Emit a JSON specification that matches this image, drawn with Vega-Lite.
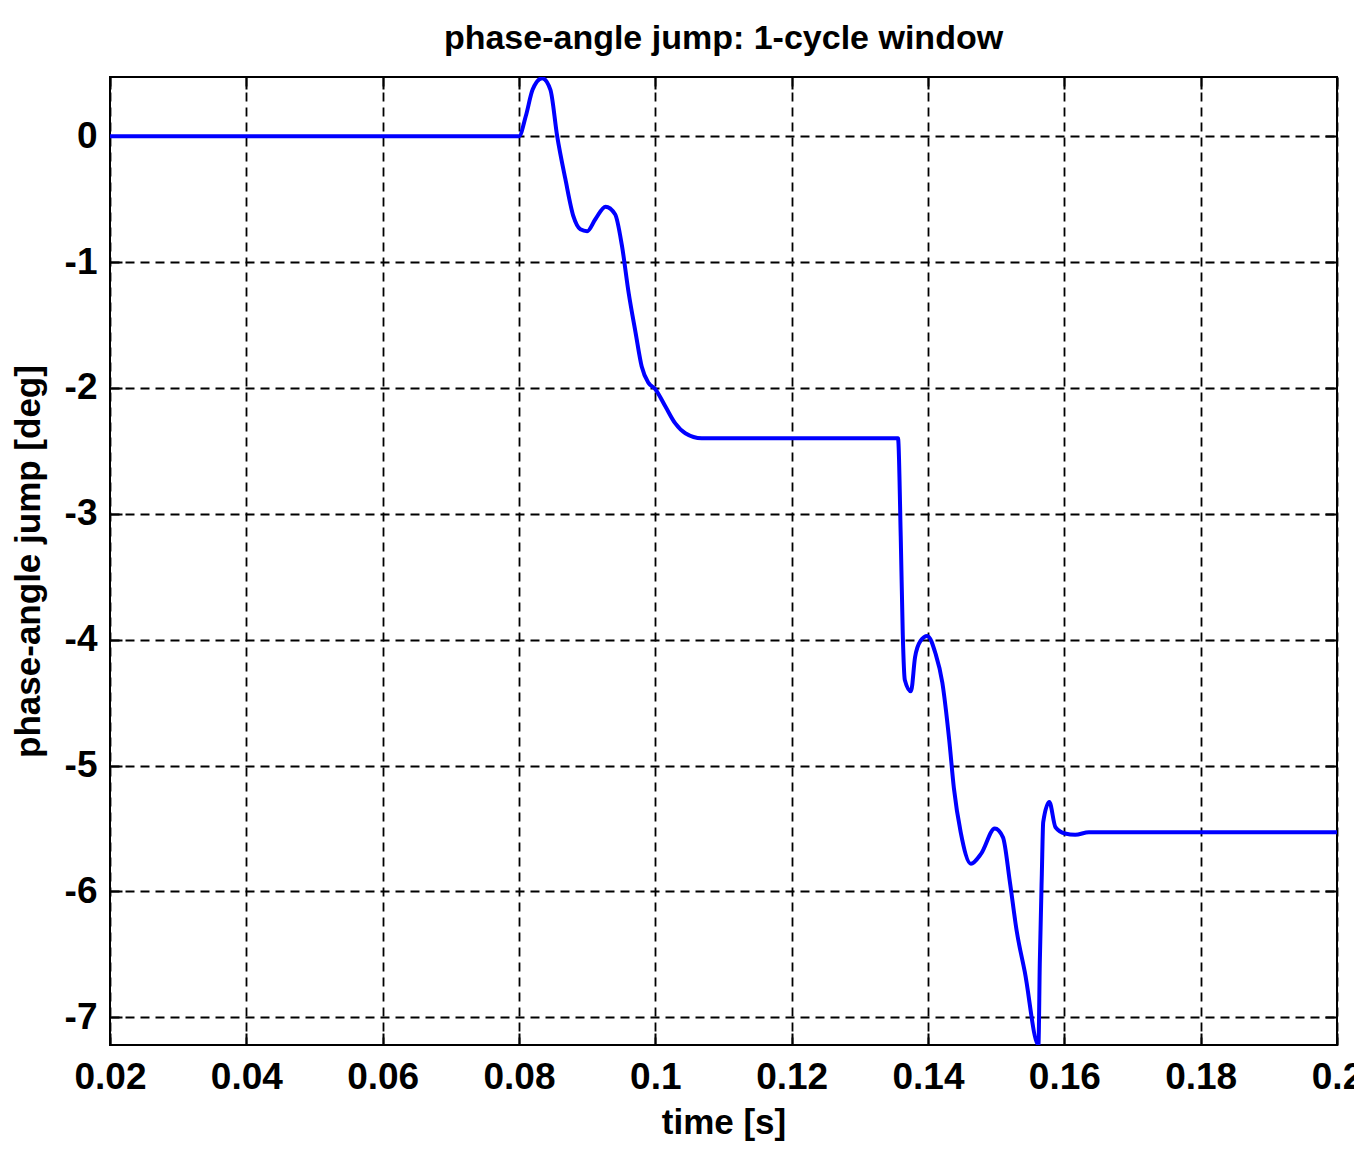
{
  "$schema": "https://vega.github.io/schema/vega-lite/v6.json",
  "description": "phase-angle jump, 1-cycle window",
  "autosize": {"type": "none"},
  "padding": {"left": 110, "top": 77, "right": 17, "bottom": 116},
  "width": 1227,
  "height": 968,
  "background": "white",
  "title": {
    "text": "phase-angle jump: 1-cycle window",
    "fontSize": 34,
    "fontWeight": "bold",
    "font": "Liberation Sans",
    "color": "black",
    "offset": 20
  },
  "config": {
    "view": {"stroke": "black", "strokeWidth": 2},
    "axis": {
      "labelFont": "Liberation Sans",
      "titleFont": "Liberation Sans",
      "labelFontWeight": "bold",
      "titleFontWeight": "bold",
      "labelFontSize": 37,
      "titleFontSize": 35,
      "labelColor": "black",
      "titleColor": "black",
      "tickColor": "black",
      "tickWidth": 2,
      "tickSize": -12,
      "domain": false,
      "gridColor": "black",
      "gridOpacity": 1,
      "gridWidth": 1.8,
      "gridDash": [9, 6]
    }
  },
  "data": {
    "values": [
      {"t": 0.02, "v": 0},
      {"t": 0.08, "v": 0},
      {"t": 0.081, "v": 0.16},
      {"t": 0.082, "v": 0.37},
      {"t": 0.0834, "v": 0.46},
      {"t": 0.0846, "v": 0.37},
      {"t": 0.0856, "v": 0},
      {"t": 0.0868, "v": -0.34},
      {"t": 0.088, "v": -0.64},
      {"t": 0.089, "v": -0.74},
      {"t": 0.09, "v": -0.755},
      {"t": 0.0912, "v": -0.66},
      {"t": 0.0927, "v": -0.56},
      {"t": 0.0941, "v": -0.62},
      {"t": 0.0951, "v": -0.87},
      {"t": 0.0961, "v": -1.25},
      {"t": 0.0971, "v": -1.56},
      {"t": 0.098, "v": -1.83},
      {"t": 0.099, "v": -1.96},
      {"t": 0.1, "v": -2.01},
      {"t": 0.1015, "v": -2.15},
      {"t": 0.1029, "v": -2.28},
      {"t": 0.1044, "v": -2.36},
      {"t": 0.1068, "v": -2.4},
      {"t": 0.1356, "v": -2.4},
      {"t": 0.136, "v": -3.18},
      {"t": 0.1363, "v": -3.96},
      {"t": 0.1366, "v": -4.32},
      {"t": 0.1375, "v": -4.41},
      {"t": 0.1381, "v": -4.14},
      {"t": 0.1389, "v": -4.01},
      {"t": 0.1399, "v": -3.97},
      {"t": 0.1411, "v": -4.11},
      {"t": 0.1421, "v": -4.34},
      {"t": 0.1431, "v": -4.79},
      {"t": 0.1438, "v": -5.18},
      {"t": 0.1448, "v": -5.53},
      {"t": 0.1463, "v": -5.78},
      {"t": 0.1478, "v": -5.7},
      {"t": 0.1498, "v": -5.5},
      {"t": 0.151, "v": -5.57},
      {"t": 0.152, "v": -5.92},
      {"t": 0.153, "v": -6.31},
      {"t": 0.1542, "v": -6.64},
      {"t": 0.1562, "v": -7.22},
      {"t": 0.1564, "v": -6.57},
      {"t": 0.1567, "v": -5.86},
      {"t": 0.1569, "v": -5.45},
      {"t": 0.1578, "v": -5.29},
      {"t": 0.1587, "v": -5.49},
      {"t": 0.1601, "v": -5.54},
      {"t": 0.1616, "v": -5.55},
      {"t": 0.1636, "v": -5.53},
      {"t": 0.2, "v": -5.53}
    ]
  },
  "layer": [
    {
      "mark": {"type": "line", "color": "#0000ff", "strokeWidth": 4, "clip": true, "interpolate": "monotone"},
      "encoding": {
        "x": {
          "field": "t",
          "type": "quantitative",
          "scale": {"domain": [0.02, 0.2], "nice": false, "zero": false},
          "axis": {
            "title": "time [s]",
            "orient": "bottom",
            "values": [0.02, 0.04, 0.06, 0.08, 0.1, 0.12, 0.14, 0.16, 0.18, 0.2],
            "labelExpr": "toString(datum.value)",
            "labelPadding": 26,
            "titlePadding": 10,
            "labelFlush": false,
            "labelOverlap": false
          }
        },
        "y": {
          "field": "v",
          "type": "quantitative",
          "scale": {"domain": [-7.22, 0.47], "nice": false, "zero": false},
          "axis": {
            "title": "phase-angle jump [deg]",
            "orient": "left",
            "values": [-7, -6, -5, -4, -3, -2, -1, 0],
            "labelExpr": "toString(datum.value)",
            "labelPadding": 25,
            "titlePadding": 18,
            "labelFlush": false,
            "labelOverlap": false
          }
        }
      }
    },
    {
      "mark": {"type": "line", "strokeOpacity": 0},
      "encoding": {
        "x": {
          "field": "t",
          "type": "quantitative",
          "axis": {
            "orient": "top",
            "title": null,
            "labels": false,
            "grid": false,
            "values": [0.02, 0.04, 0.06, 0.08, 0.1, 0.12, 0.14, 0.16, 0.18, 0.2]
          }
        },
        "y": {
          "field": "v",
          "type": "quantitative",
          "axis": {
            "orient": "right",
            "title": null,
            "labels": false,
            "grid": false,
            "values": [-7, -6, -5, -4, -3, -2, -1, 0]
          }
        }
      }
    }
  ],
  "resolve": {"axis": {"x": "independent", "y": "independent"}}
}
